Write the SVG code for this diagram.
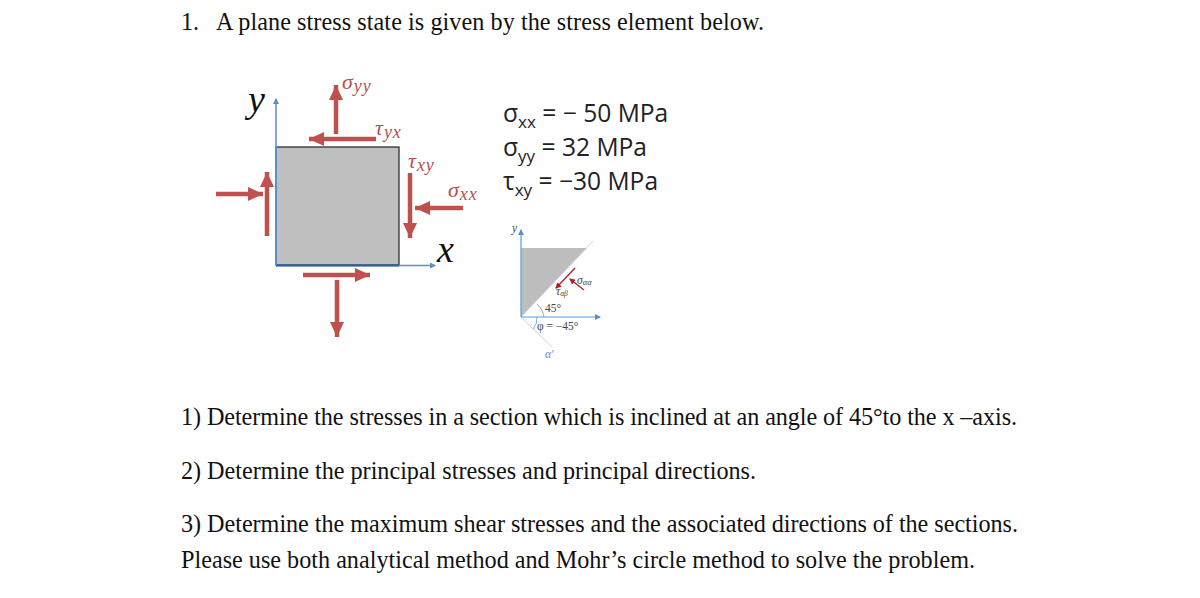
<svg xmlns="http://www.w3.org/2000/svg" width="1200" height="598" viewBox="0 0 1200 598">
<style>
.t{font-family:"Liberation Serif",serif;font-size:24.2px;fill:#111}
.m{font-family:"Liberation Serif",serif;font-style:italic;fill:#111}
.s{font-family:"Liberation Serif",serif;font-style:italic;fill:#b5504e;font-size:22px;letter-spacing:1px}
.c{font-family:"Open Sans","Noto Sans",sans-serif;font-size:24.6px;fill:#222}
.r{stroke:#c0504d;stroke-width:4.5;fill:none;marker-end:url(#ra)}
.b{stroke:#5b8fc9;stroke-width:1.5;fill:none;marker-end:url(#ba)}
.sb{stroke:#5b9bd5;stroke-width:1.2;fill:none;marker-end:url(#ba)}
.sm{font-family:"Liberation Serif",serif;font-size:11.500px;fill:#444}
</style>
<defs>
<marker id="ra" markerUnits="userSpaceOnUse" markerWidth="16" markerHeight="14" refX="15" refY="7" orient="auto"><path d="M0 0L15 7L0 14Z" fill="#c0504d"/></marker>
<marker id="ba" markerUnits="userSpaceOnUse" markerWidth="6" markerHeight="6" refX="5" refY="3" orient="auto"><path d="M0 0L6 3L0 6Z" fill="#5b8fc9"/></marker>
<marker id="da" markerUnits="userSpaceOnUse" markerWidth="6" markerHeight="6" refX="5" refY="3" orient="auto"><path d="M0 0L6 3L0 6Z" fill="#b01e22"/></marker>
</defs>
<rect width="1200" height="598" fill="#fff"/>
<text class="t" x="181" y="30">1.</text>
<text class="t" x="216" y="30" textLength="548" lengthAdjust="spacing">A plane stress state is given by the stress element below.</text>
<g id="element"><rect x="276" y="147" width="123" height="118" fill="#bfbfbf" stroke="#222" stroke-width="1.2"/></g>
<g id="connectors">
<path class="b" d="M276 265V99"/>
<path class="b" d="M276 265.500H435"/>
<path d="M276 265.500H399" stroke="#2f5f9f" stroke-width="2" fill="none"/>
<path d="M276 147V265" stroke="#5b8fc9" stroke-width="2" fill="none"/>
<path class="r" d="M336 134V85"/>
<path class="r" d="M376 139H309"/>
<path class="r" d="M410 173V238"/>
<path class="r" d="M463 208H415"/>
<path class="r" d="M267 236V172"/>
<path class="r" d="M216 194H263"/>
<path class="r" d="M303 275H370"/>
<path class="r" d="M337 280V337"/>
</g>
<g id="labels">
<text class="m" x="248" y="112" font-size="38">y</text>
<text class="m" x="437" y="262" font-size="38">x</text>
<text class="s" x="342" y="89">σ<tspan font-size="18" dy="3">yy</tspan></text>
<text class="s" x="375" y="135">τ<tspan font-size="18" dy="3">yx</tspan></text>
<text class="s" x="408" y="168">τ<tspan font-size="18" dy="3">xy</tspan></text>
<text class="s" x="448" y="197">σ<tspan font-size="18" dy="3">xx</tspan></text>
</g>
<g id="equations">
<text class="c" x="503" y="122">σ<tspan font-size="17" dy="6">xx</tspan><tspan dy="-6"> = − 50 MPa</tspan></text>
<text class="c" x="503" y="156">σ<tspan font-size="17" dy="6">yy</tspan><tspan dy="-6"> = 32 MPa</tspan></text>
<text class="c" x="503" y="190">τ<tspan font-size="17" dy="6">xy</tspan><tspan dy="-6"> = −30 MPa</tspan></text>
</g>
<g id="small-figure">
<path d="M521 248H587L521 317Z" fill="#bdbdbd"/>
<path d="M521 317L593 241" stroke="#c5d5e8" stroke-width="1" fill="none"/>
<path d="M521 317L552 347" stroke="#c5d5e8" stroke-width="1" fill="none"/>
<path class="sb" d="M521 317V230"/>
<path class="sb" d="M521 317H600"/>
<path d="M575 268L556 288" stroke="#b01e22" stroke-width="1.3" fill="none" marker-end="url(#da)"/>
<path d="M584 290L570 279" stroke="#b01e22" stroke-width="1.3" fill="none" marker-end="url(#da)"/>
<path d="M537 304A22 22 0 0 1 544 317" stroke="#5b9bd5" stroke-width="0.8" fill="none"/>
<path d="M537 317A16 16 0 0 1 533 329" stroke="#5b9bd5" stroke-width="0.8" fill="none"/>
<text class="sm" x="512" y="232" font-style="italic">y</text>
<text class="sm" x="577" y="284" font-style="italic">σ<tspan font-size="8.500" dy="1">αα</tspan></text>
<text class="sm" x="556" y="295" font-style="italic">τ<tspan font-size="7.500" dy="1">αβ</tspan></text>
<text class="sm" x="545" y="312">45°</text>
<text class="sm" x="537" y="330">φ = −45°</text>
<text class="sm" x="545" y="358" font-style="italic" style="fill:#5b8fc9">α'</text>
</g>
<g id="questions">
<text class="t" x="181" y="425" textLength="836" lengthAdjust="spacing">1) Determine the stresses in a section which is inclined at an angle of 45°to the x –axis.</text>
<text class="t" x="181" y="479" textLength="575" lengthAdjust="spacing">2) Determine the principal stresses and principal directions.</text>
<text class="t" x="181" y="532" textLength="837" lengthAdjust="spacing">3) Determine the maximum shear stresses and the associated directions of the sections.</text>
<text class="t" x="181" y="568" textLength="794" lengthAdjust="spacing">Please use both analytical method and Mohr’s circle method to solve the problem.</text>
</g>
</svg>
